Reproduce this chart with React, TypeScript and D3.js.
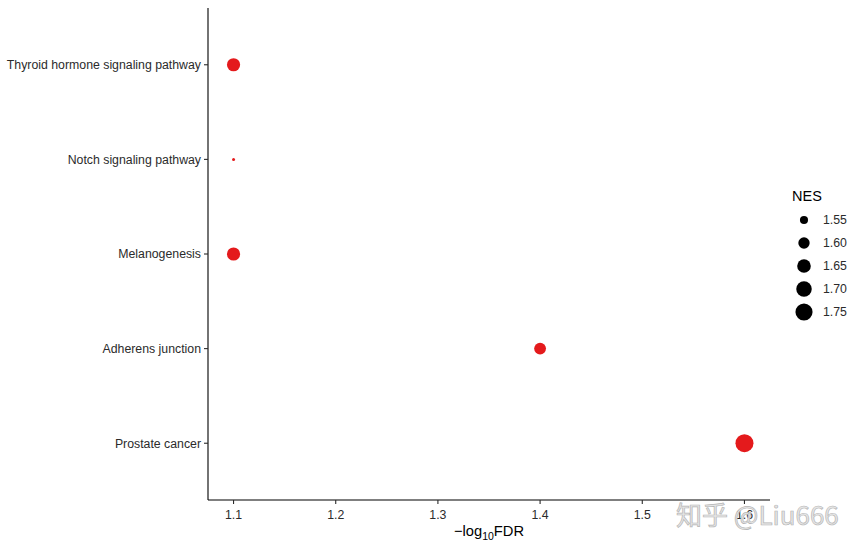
import React from "react";
import * as d3 from "d3";

const pathways = [
  "Prostate cancer",
  "Adherens junction",
  "Melanogenesis",
  "Notch signaling pathway",
  "Thyroid hormone signaling pathway",
];
const negLogFDR = [1.6, 1.4, 1.1, 1.1, 1.1];
const nesValues = [1.78, 1.61, 1.64, 1.52, 1.64];
const xTicks = [1.1, 1.2, 1.3, 1.4, 1.5, 1.6];
const legendBreaks = [1.55, 1.6, 1.65, 1.7, 1.75];

const W = 862;
const H = 549;
const left = 208;
const right = 770;
const top = 8;
const bottom = 500;
const textCol = "#2b2b2b";
const red = "#E41A1C";

export default function App() {
  const xmin = d3.min(negLogFDR)!;
  const xmax = d3.max(negLogFDR)!;
  const xpad = (xmax - xmin) * 0.05;
  const x = d3.scaleLinear().domain([xmin - xpad, xmax + xpad]).range([left, right]);

  // discrete y with 0.6 expansion
  const y = d3
    .scaleLinear()
    .domain([1 - 0.6, pathways.length + 0.6])
    .range([bottom, top]);

  const nmin = d3.min(nesValues)!;
  const nmax = d3.max(nesValues)!;
  const norm = d3.scaleLinear().domain([nmin, nmax]).range([0, 1]).clamp(true);
  const size = d3.scaleSqrt().domain([0, 1]).range([1, 6]);
  const radius = (v: number) => 1.5 * size(norm(v));

  const legendX = 804;
  const legendY0 = 220;
  const legendStep = 23;

  return (
    <svg
      width={W}
      height={H}
      style={{ position: "absolute", left: 0, top: 0, display: "block", background: "#fff" }}
      fontFamily="'Liberation Sans', Arial, sans-serif"
    >
      <rect x={0} y={0} width={W} height={H} fill="#fff" />
      {/* points */}
      {pathways.map((p, i) => (
        <circle
          key={p}
          cx={x(negLogFDR[i])}
          cy={y(i + 1)}
          r={radius(nesValues[i])}
          fill={red}
        />
      ))}
      {/* axes */}
      <line x1={left} x2={right} y1={bottom} y2={bottom} stroke="#000" strokeWidth={1.1} />
      <line x1={left} x2={left} y1={top} y2={bottom} stroke="#000" strokeWidth={1.1} />
      {xTicks.map((t) => (
        <g key={t}>
          <line x1={x(t)} x2={x(t)} y1={bottom} y2={bottom + 4} stroke={textCol} strokeWidth={1.1} />
          <text x={x(t)} y={bottom + 18.5} fontSize={12.3} fill={textCol} textAnchor="middle">
            {d3.format(".1f")(t)}
          </text>
        </g>
      ))}
      {pathways.map((p, i) => (
        <g key={p}>
          <line x1={left - 4} x2={left} y1={y(i + 1)} y2={y(i + 1)} stroke={textCol} strokeWidth={1.1} />
          <text x={left - 7} y={y(i + 1) + 4.4} fontSize={12.3} fill={textCol} textAnchor="end">
            {p}
          </text>
        </g>
      ))}
      {/* x title */}
      <text x={(left + right) / 2} y={536} fontSize={14.7} fill="#000" textAnchor="middle">
        <tspan>−log</tspan>
        <tspan fontSize={10.5} dy={3.5}>10</tspan>
        <tspan dy={-3.5}>FDR</tspan>
      </text>
      {/* legend */}
      <text x={792} y={201} fontSize={14.5} fill="#000">NES</text>
      {legendBreaks.map((b, i) => (
        <g key={b}>
          <circle cx={legendX} cy={legendY0 + i * legendStep} r={radius(b)} fill="#000" />
          <text x={823} y={legendY0 + i * legendStep + 4.4} fontSize={12.3} fill={textCol}>
            {d3.format(".2f")(b)}
          </text>
        </g>
      ))}
      {/* watermark */}
      <text
        x={676}
        y={525}
        fontSize={26}
        fill="#e6e6e6"
        stroke="#b5b5b5"
        strokeWidth={0.7}
        fontFamily="'Noto Sans CJK SC', sans-serif"
      >
        知乎 @Liu666
      </text>
    </svg>
  );
}
